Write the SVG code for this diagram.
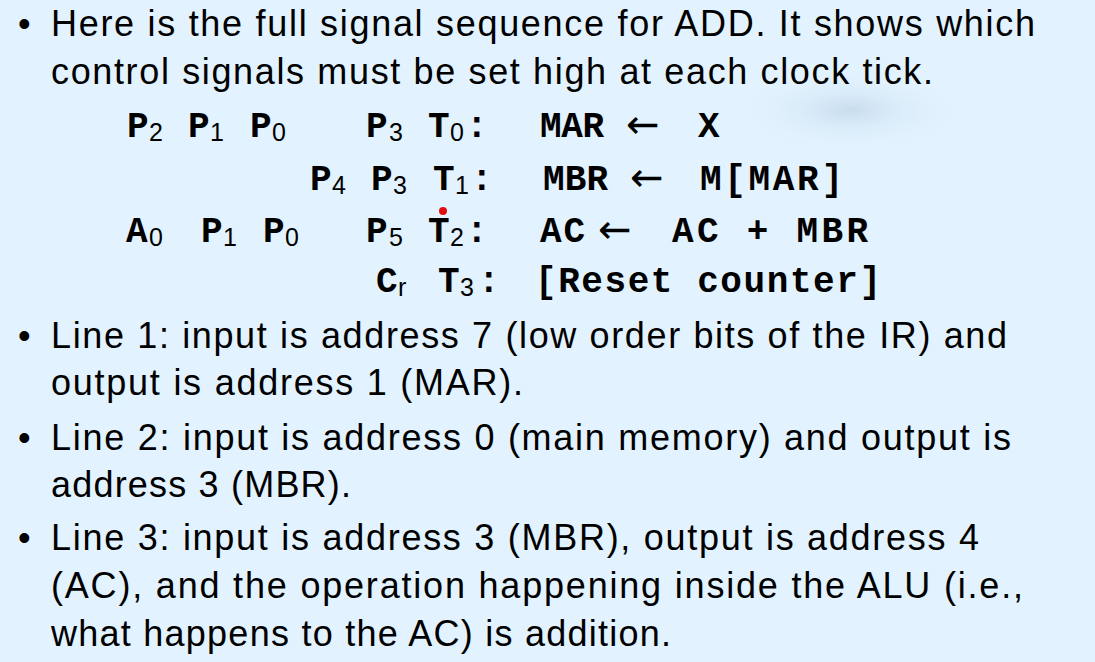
<svg xmlns="http://www.w3.org/2000/svg" width="1095" height="662" viewBox="0 0 1095 662">
<defs>
<radialGradient id="blob" cx="0.5" cy="0.5" r="0.5"><stop offset="0" stop-color="#c8dcee"/><stop offset="1" stop-color="#e2f2fe" stop-opacity="0"/></radialGradient>
<style>
.b{font-family:"Liberation Sans",Arial,sans-serif;font-size:36px;fill:#000}
.m{font-family:"Liberation Mono","DejaVu Sans Mono",monospace;font-size:36px;font-weight:bold;fill:#000}
.s{font-family:"Liberation Sans",Arial,sans-serif;font-size:25px;fill:#000}
.a{font-family:"DejaVu Sans",sans-serif;font-size:40px;fill:#000}
</style>
</defs>
<rect width="1095" height="662" fill="#e2f2fe"/>
<ellipse cx="850" cy="110" rx="110" ry="40" fill="url(#blob)"/>
<g id="text">
<text class="b" x="18" y="36">•</text>
<text class="b" x="51" y="36" textLength="984">Here is the full signal sequence for ADD. It shows which</text>
<text class="b" x="51" y="84" textLength="882">control signals must be set high at each clock tick.</text>
<text class="b" x="18" y="348">•</text>
<text class="b" x="51" y="348" textLength="956">Line 1: input is address 7 (low order bits of the IR) and</text>
<text class="b" x="51" y="395" textLength="472">output is address 1 (MAR).</text>
<text class="b" x="18" y="450">•</text>
<text class="b" x="51" y="450" textLength="960">Line 2: input is address 0 (main memory) and output is</text>
<text class="b" x="51" y="497" textLength="300">address 3 (MBR).</text>
<text class="b" x="18" y="550">•</text>
<text class="b" x="51" y="550" textLength="928">Line 3: input is address 3 (MBR), output is address 4</text>
<text class="b" x="51" y="598" textLength="972">(AC), and the operation happening inside the ALU (i.e.,</text>
<text class="b" x="51" y="646" textLength="620">what happens to the AC) is addition.</text>
</g>
<g id="code">
<text class="m" x="127" y="137">P</text><text class="s" x="149" y="141">2</text>
<text class="m" x="188" y="137">P</text><text class="s" x="210" y="141">1</text>
<text class="m" x="250" y="137">P</text><text class="s" x="272" y="141">0</text>
<text class="m" x="366" y="137">P</text><text class="s" x="389" y="141">3</text>
<text class="m" x="428" y="137">T</text><text class="s" x="450" y="141">0</text>
<text class="m" x="466" y="137">:</text>
<text class="m" x="540" y="137" textLength="64">MAR</text><text class="a" x="626" y="138">←</text><text class="m" x="698" y="137">X</text>

<text class="m" x="310" y="190">P</text><text class="s" x="332" y="194">4</text>
<text class="m" x="371" y="190">P</text><text class="s" x="393" y="194">3</text>
<text class="m" x="433" y="190">T</text><text class="s" x="455" y="194">1</text>
<text class="m" x="471" y="190">:</text>
<text class="m" x="543" y="190" textLength="65">MBR</text><text class="a" x="630" y="191">←</text><text class="m" x="700" y="190" textLength="143">M[MAR]</text>

<text class="m" x="126" y="242">A</text><text class="s" x="149" y="246">0</text>
<text class="m" x="201" y="242">P</text><text class="s" x="223" y="246">1</text>
<text class="m" x="263" y="242">P</text><text class="s" x="285" y="246">0</text>
<text class="m" x="366" y="242">P</text><text class="s" x="389" y="246">5</text>
<text class="m" x="428" y="242">T</text><text class="s" x="450" y="246">2</text>
<text class="m" x="466" y="242">:</text>
<text class="m" x="540" y="242" textLength="45">AC</text><text class="a" x="598" y="243">←</text><text class="m" x="672" y="242" textLength="196">AC + MBR</text>

<text class="m" x="376" y="292">C</text><text class="s" x="398" y="296">r</text>
<text class="m" x="438" y="292">T</text><text class="s" x="460" y="296">3</text>
<text class="m" x="478" y="292">:</text>
<text class="m" x="535" y="292" textLength="346">[Reset counter]</text>
<circle cx="443" cy="211" r="4" fill="#e01010"/>
</g>
</svg>
